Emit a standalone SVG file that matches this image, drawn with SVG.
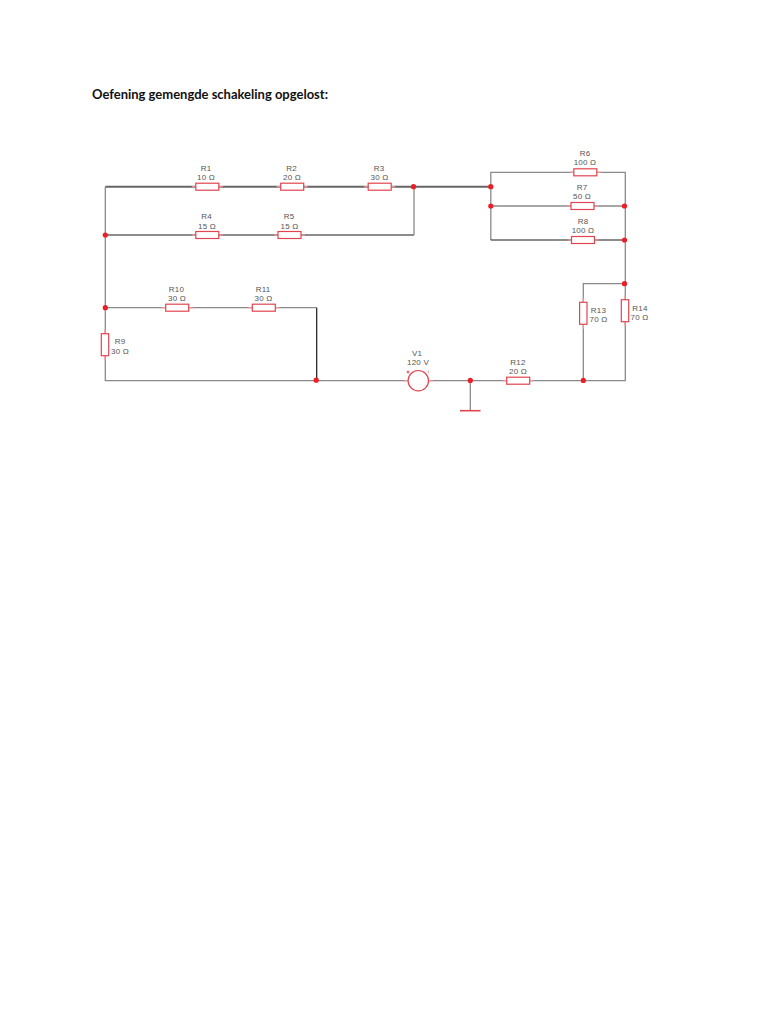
<svg xmlns="http://www.w3.org/2000/svg" width="768" height="1024" viewBox="0 0 768 1024">
<style>
.w{fill:none;stroke:#8a8a8a;stroke-width:1.3}
.k{fill:none;stroke:#1a1a1a;stroke-width:1.2}
.t{fill:none;stroke:#666;stroke-width:2}
.r{fill:#fff;stroke:#e2454f;stroke-width:1.2}
.d{fill:#ee1c25}
.x{font-family:"Liberation Sans",Arial,sans-serif;font-size:8px;fill:#555;text-anchor:middle;letter-spacing:.2px}
.h{font-family:Lato,"Noto Sans",sans-serif;font-size:14px;font-weight:700;fill:#111}
</style>
<defs>
<g id="rh"><path d="M-15.500 0H15.500" stroke="#f0989c" stroke-width="1.300"/><rect class="r" x="-11.500" y="-3.500" width="23" height="7"/></g>
<g id="rv"><path d="M0 -15.500V15.500" stroke="#f0989c" stroke-width="1.300"/><rect class="r" x="-3.700" y="-11" width="7.400" height="22"/></g>
<circle id="n" class="d" r="2.600"/>
</defs>
<rect width="768" height="1024" fill="#fff"/>
<text class="h" x="92" y="99" textLength="236" lengthAdjust="spacingAndGlyphs">Oefening gemengde schakeling opgelost:</text>
<g id="connectors">
<path class="t" d="M105.300 186.700H491"/>
<path class="w" d="M105.300 186.700V380.700H407M429 380.700H625.300V172.300H490.800V240"/>
<path class="k" d="M105.300 235H414"/>
<path class="w" d="M414 186.700V235"/>
<path class="w" d="M105.300 307.700H316.700"/>
<path class="k" d="M316.700 307.700V380.700"/>
<path class="w" d="M490.800 206H625"/>
<path class="k" d="M490.800 240H625"/>
<path class="w" d="M583.300 380.700V283.700H625"/>
<path class="w" d="M470.300 380.700V410.700"/>
</g>
<g id="R1"><use href="#rh" x="207.300" y="186.700"/><text class="x" x="206" y="171">R1</text><text class="x" x="206" y="180">10 Ω</text></g>
<g id="R2"><use href="#rh" x="292.200" y="186.700"/><text class="x" x="291.500" y="171">R2</text><text class="x" x="292" y="180">20 Ω</text></g>
<g id="R3"><use href="#rh" x="379.700" y="186.700"/><text class="x" x="379" y="171">R3</text><text class="x" x="379.500" y="180">30 Ω</text></g>
<g id="R4"><use href="#rh" x="207.300" y="235"/><text class="x" x="206.500" y="219">R4</text><text class="x" x="207" y="229">15 Ω</text></g>
<g id="R5"><use href="#rh" x="289.500" y="235"/><text class="x" x="289" y="219">R5</text><text class="x" x="289.500" y="229">15 Ω</text></g>
<g id="R6"><use href="#rh" x="585.300" y="172.300"/><text class="x" x="585" y="156">R6</text><text class="x" x="585" y="165">100 Ω</text></g>
<g id="R7"><use href="#rh" x="582.500" y="206"/><text class="x" x="582" y="190">R7</text><text class="x" x="582" y="199">50 Ω</text></g>
<g id="R8"><use href="#rh" x="583" y="240"/><text class="x" x="583" y="224">R8</text><text class="x" x="583" y="233">100 Ω</text></g>
<g id="R9"><use href="#rv" x="105" y="344.700"/><text class="x" x="120" y="344">R9</text><text class="x" x="120" y="354">30 Ω</text></g>
<g id="R10"><use href="#rh" x="177.200" y="307.700"/><text class="x" x="176.500" y="292">R10</text><text class="x" x="177" y="301">30 Ω</text></g>
<g id="R11"><use href="#rh" x="263.800" y="307.700"/><text class="x" x="263" y="292">R11</text><text class="x" x="263.500" y="301">30 Ω</text></g>
<g id="R12"><use href="#rh" x="518.200" y="380.700"/><text class="x" x="518" y="365">R12</text><text class="x" x="518" y="374">20 Ω</text></g>
<g id="R13"><use href="#rv" x="583.300" y="313.300"/><text class="x" x="598.500" y="313">R13</text><text class="x" x="598.500" y="322">70 Ω</text></g>
<g id="R14"><use href="#rv" x="625" y="310.700"/><text class="x" x="640" y="311">R14</text><text class="x" x="639.500" y="320">70 Ω</text></g>
<g id="V1"><path d="M404 380.700H433" stroke="#f0989c" stroke-width="1.300" fill="none"/><circle cx="418.300" cy="380.700" r="10.200" fill="#fff" stroke="#e2454f" stroke-width="1.200"/><path d="M406.500 372H409.500M408 370.500V373.500" stroke="#e2454f" stroke-width="1"/><path d="M428.300 370.500V373" stroke="#f0989c" stroke-width="1"/><text class="x" x="417" y="356">V1</text><text class="x" x="418" y="365">120 V</text></g>
<g id="ground"><path d="M460 410.700H480.500" stroke="#e2454f" stroke-width="1.600"/></g>
<g id="junctions">
<use href="#n" x="413.500" y="186.700"/><use href="#n" x="105.300" y="235"/><use href="#n" x="105.300" y="307.700"/><use href="#n" x="316.200" y="380.200"/><use href="#n" x="490.800" y="186.700"/><use href="#n" x="490.800" y="206"/><use href="#n" x="624.500" y="206"/><use href="#n" x="624.500" y="240"/><use href="#n" x="624.500" y="283.700"/><use href="#n" x="583.300" y="380.400"/><use href="#n" x="470.300" y="380.400"/>
</g>
</svg>
